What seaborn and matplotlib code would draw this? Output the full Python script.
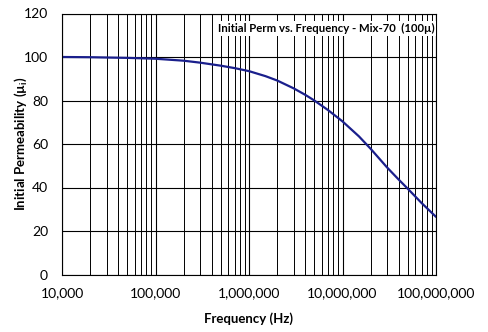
import numpy as np
import pandas as pd
import matplotlib
matplotlib.use("Agg")
import matplotlib.pyplot as plt
import seaborn as sns
from matplotlib.ticker import LogLocator, FuncFormatter, NullFormatter

freq_hz = [1e4, 2e4, 5e4, 1e5, 2e5, 3e5, 5e5, 7e5, 1e6, 1.5e6, 2e6, 3e6, 4e6, 5e6,
           7e6, 1e7, 1.5e7, 2e7, 3e7, 4e7, 5e7, 7e7, 1e8]
perm = [100.0, 99.9, 99.6, 99.2, 98.3, 97.4, 96.0, 94.9, 93.5, 91.2, 89.2, 85.6, 82.6, 80.0,
        75.6, 70.4, 63.5, 57.8, 49.2, 43.6, 39.4, 32.9, 26.5]

title_text = "Initial Perm vs. Frequency - Mix-70  (100\u00b5)"
x_label = "Frequency (Hz)"
y_label = "Initial Permeability (\u00b5$_\\mathregular{i}$)"

df = pd.DataFrame({"Frequency": freq_hz, "Perm": perm})

sns.set_theme(style="white")
plt.rcParams["font.family"] = ["Lato", "DejaVu Sans"]
plt.rcParams["mathtext.fontset"] = "custom"
plt.rcParams["mathtext.rm"] = "Lato"

fig = plt.figure(figsize=(4.88, 3.32), dpi=100)
ax = fig.add_axes([62/488, 1-274.5/332, (436-62)/488, (274.5-13.5)/332])

sns.lineplot(data=df, x="Frequency", y="Perm", ax=ax, color="#1a1f8c", lw=1.6)

ax.set_xscale("log")
ax.set_xlim(1e4, 1e8)
ax.set_ylim(0, 120)
ax.set_yticks(range(0, 121, 20))
ax.xaxis.set_major_locator(LogLocator(base=10, numticks=10))
ax.xaxis.set_minor_locator(LogLocator(base=10, subs=np.arange(2, 10), numticks=100))
ax.xaxis.set_major_formatter(FuncFormatter(lambda v, p: f"{int(round(v)):,}"))
ax.xaxis.set_minor_formatter(NullFormatter())

ax.grid(True, which="major", axis="both", color="black", lw=0.8)
ax.grid(True, which="minor", axis="x", color="black", lw=0.7)

for s in ax.spines.values():
    s.set_color("black")
    s.set_linewidth(0.8)

ax.tick_params(axis="x", which="major", direction="inout", length=6, width=0.8,
               colors="black", labelsize=10, pad=6)
ax.tick_params(axis="x", which="minor", direction="in", length=3, width=0.6, colors="black")
ax.tick_params(axis="y", which="major", direction="inout", length=6, width=0.8,
               colors="black", labelsize=10, pad=7)
for lab in ax.get_xticklabels() + ax.get_yticklabels():
    lab.set_color("black")

ax.set_xlabel(x_label, fontsize=9.5, fontweight="bold", color="black")
ax.set_ylabel(y_label, fontsize=9.5, fontweight="bold", color="black")
ax.xaxis.set_label_coords(0.5, -(312 - 274.5) / 261)
ax.yaxis.set_label_coords((29 - 62) / 374, 0.5)

ax.text(0.995, 0.965, title_text, transform=ax.transAxes, ha="right", va="top",
        fontsize=8.2, fontweight="bold", color="black",
        bbox=dict(facecolor="white", edgecolor="none", pad=1.5))

fig.savefig("out.png", dpi=100)
